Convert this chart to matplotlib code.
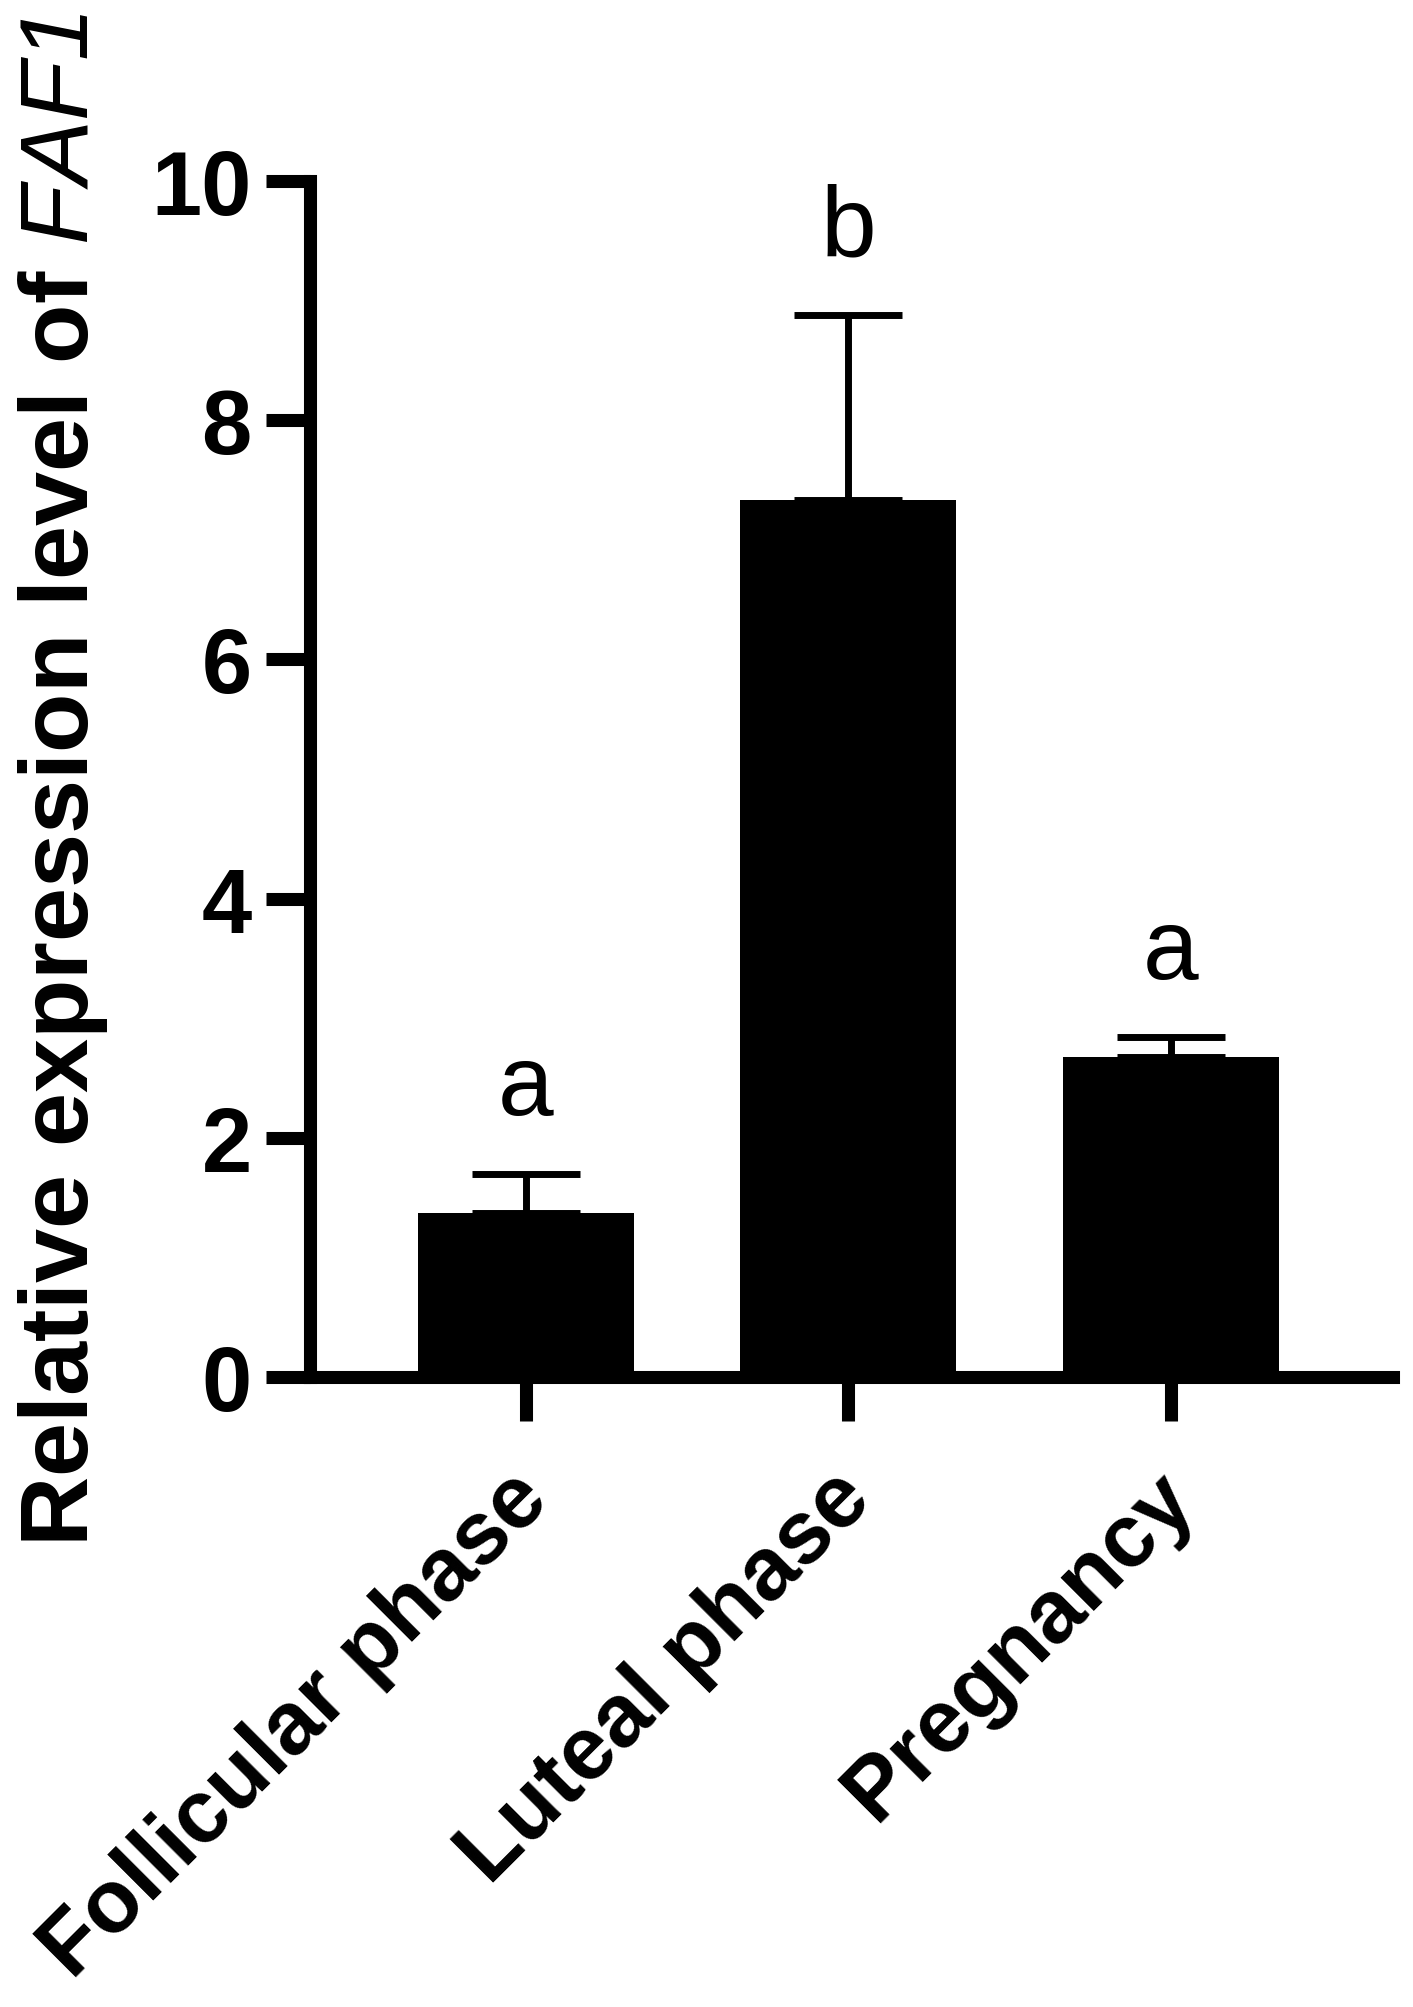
### Bar chart of FAF1 relative expression across reproductive stages

import numpy as np
import matplotlib
matplotlib.use('Agg')
import matplotlib.pyplot as plt
import matplotlib.transforms as mtransforms

### Data
groups = ['Follicular phase', 'Luteal phase', 'Pregnancy']
means = [1.37, 7.33, 2.68]
errors = [0.33, 1.55, 0.16]
letters = ['a', 'b', 'a']

plt.rcParams['font.family'] = 'Liberation Sans'
plt.rcParams['mathtext.fontset'] = 'custom'
plt.rcParams['mathtext.rm'] = 'Liberation Sans:italic'
plt.rcParams['mathtext.it'] = 'Liberation Sans:italic'

fig = plt.figure(figsize=(14.13, 20.08), dpi=100)
ax = fig.add_axes([0.2194, 0.3137, 0.9858 - 0.2194, 0.9094 - 0.3137])

x = np.arange(len(groups))
ax.bar(x, means, width=0.67, color='black', edgecolor='none', zorder=2)
ax.errorbar(x, means, yerr=[np.zeros(len(errors)), errors], fmt='none',
            ecolor='black', elinewidth=5, capsize=39, capthick=5, zorder=1)

for i in range(len(groups)):
    ax.text(x[i], means[i] + errors[i] + 0.5, letters[i], ha='center',
            va='baseline', fontsize=72)

ax.set_xlim(-0.67, 2.69)
ax.set_ylim(0, 10)
ax.set_yticks([0, 2, 4, 6, 8, 10])
ax.set_xticks(x)
ax.set_xticklabels([])
for lab in ax.get_yticklabels():
    lab.set_fontsize(65)
    lab.set_fontweight('bold')

### slanted group labels, placed under each tick a bit down-left
label_trans = mtransforms.offset_copy(ax.get_xaxis_transform(), fig=fig,
                                      x=-14.4, y=-56.4, units='points')
for i in range(len(groups)):
    ax.text(x[i], 0, groups[i], transform=label_trans, rotation=45,
            ha='right', va='top', rotation_mode='anchor', fontsize=64,
            fontweight='bold', clip_on=False)

ax.spines['top'].set_visible(False)
ax.spines['right'].set_visible(False)
ax.spines['left'].set_linewidth(9.4)
ax.spines['bottom'].set_linewidth(9.4)
ax.tick_params(axis='both', length=32, width=9.4, pad=10)

ax.set_ylabel(r'Relative expression level of $\mathrm{FAF1}$', fontsize=70,
              fontweight='bold', labelpad=30)

plt.savefig('out.png', dpi=100)
